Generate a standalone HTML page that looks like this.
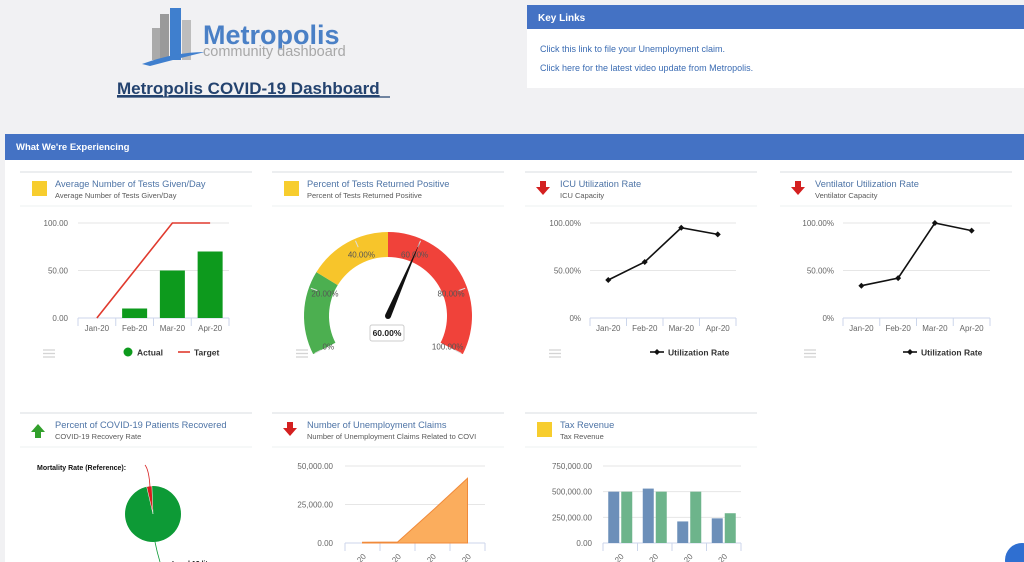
<!DOCTYPE html>
<html><head><meta charset="utf-8">
<style>
html,body{margin:0;padding:0;width:1024px;height:562px;overflow:hidden;background:#f1f1f3;font-family:"Liberation Sans",sans-serif;}
svg{position:absolute;left:0;top:0;}
text{font-family:"Liberation Sans",sans-serif;}
</style></head>
<body>
<svg id="page" width="1024" height="562" viewBox="0 0 1024 562">
  <!-- header -->
  <g>
    <rect x="160" y="14" width="9" height="46" fill="#9a9a9a"/>
    <rect x="170" y="8" width="11" height="52" fill="#3f7fce"/>
    <rect x="182" y="20" width="9" height="40" fill="#bdbdbd"/>
    <rect x="152" y="28" width="8" height="32" fill="#aaaaaa"/>
    <path d="M142 64 Q175 52 205 52 Q180 58 150 66 Z" fill="#3f7fce"/>
    <text x="203" y="44" font-size="27" font-weight="bold" fill="#4a80c6">Metropolis</text>
    <text x="203" y="56" font-size="14.5" fill="#a8a8a8">community dashboard</text>
  </g>
  <text x="117" y="94" font-size="17" font-weight="bold" fill="#24436f" text-decoration="underline">Metropolis COVID-19 Dashboard</text>
  <line x1="117" y1="97" x2="390" y2="97" stroke="#24436f" stroke-width="1.2"/>

  <!-- key links -->
  <g>
    <rect x="527" y="5" width="497" height="83" fill="#ffffff"/>
    <rect x="527" y="5" width="497" height="24" fill="#4472c4"/>
    <text x="538" y="21" font-size="10" font-weight="bold" fill="#ffffff">Key Links</text>
    <text x="540" y="52" font-size="9" fill="#3b6cb3">Click this link to file your Unemployment claim.</text>
    <text x="540" y="71" font-size="9" fill="#3b6cb3">Click here for the latest video update from Metropolis.</text>
  </g>

  <!-- section -->
  <rect x="5" y="134" width="1019" height="428" fill="#ffffff"/>
  <rect x="5" y="134" width="1019" height="26" fill="#4472c4"/>
  <text x="16" y="150" font-size="9.5" font-weight="bold" fill="#ffffff">What We're Experiencing</text>

  <g id="cards"></g>
  <g id="charts"></g>

  <circle cx="1022" cy="560" r="17" fill="#2f6fd1"/>
</svg>
<script>
// ---- data ----
const months = ["Jan-20","Feb-20","Mar-20","Apr-20"];
const testsActual = [0, 10, 50, 70];
const testsTarget = [0, 50, 100, 100];
const testsTicks = ["0.00","50.00","100.00"];
const positiveValue = 60;
const gaugeBands = [25, 50, 100];
const gaugeLabels = ["0%","20.00%","40.00%","60.00%","80.00%","100.00%"];
const icuRate = [40, 59, 95, 88];
const ventRate = [34, 42, 100, 92];
const pctTicks = ["0%","50.00%","100.00%"];
const mortalityPct = 3;
const claims = [500, 600, 21000, 42000];
const claimTicks = ["0.00","25,000.00","50,000.00"];
const taxActual = [500000, 530000, 210000, 240000];
const taxTarget = [500000, 500000, 500000, 290000];
const taxTicks = ["0.00","250,000.00","500,000.00","750,000.00"];

const NS = "http://www.w3.org/2000/svg";
function mk(parent, tag, attrs, txt){
  const e = document.createElementNS(NS, tag);
  for (const k in attrs) e.setAttribute(k, attrs[k]);
  if (txt !== undefined) e.textContent = txt;
  parent.appendChild(e); return e;
}
const cards = document.getElementById('cards');
const charts = document.getElementById('charts');

// ---- cards ----
const cardDefs = [
  [20,172,"Average Number of Tests Given/Day","Average Number of Tests Given/Day","sq"],
  [272,172,"Percent of Tests Returned Positive","Percent of Tests Returned Positive","sq"],
  [525,172,"ICU Utilization Rate","ICU Capacity","down"],
  [780,172,"Ventilator Utilization Rate","Ventilator Capacity","down"],
  [20,413,"Percent of COVID-19 Patients Recovered","COVID-19 Recovery Rate","up"],
  [272,413,"Number of Unemployment Claims","Number of Unemployment Claims Related to COVI","down"],
  [525,413,"Tax Revenue","Tax Revenue","sq"]
];
cardDefs.forEach((c,i)=>{
  const [x,y,t,s,ic] = c;
  const g = mk(cards,'g',{});
  
  
  mk(g,'line',{x1:x,y1:y,x2:x+232,y2:y,stroke:'#e6e9ec','stroke-width':1.5});
  mk(g,'line',{x1:x,y1:y+34,x2:x+232,y2:y+34,stroke:'#eef0f2','stroke-width':1});
  let icon;
  if (ic==='sq') icon = mk(g,'rect',{x:x+12,y:y+9,width:15,height:15,fill:'#f7cd2e'});
  else if (ic==='down') icon = mk(g,'path',{d:`M${x+15} ${y+9}h6v6h4l-7 8l-7-8h4z`,fill:'#d42020'});
  else icon = mk(g,'path',{d:`M${x+15} ${y+25}h6v-6h4l-7-8l-7 8h4z`,fill:'#32a02c'});
  
  
  const tt = mk(g,'text',{x:x+35,y:y+15,'font-size':9.3,fill:'#4e74a6'},t);
  
  
  const st = mk(g,'text',{x:x+35,y:y+26,'font-size':7.5,fill:'#5a5a5a'},s);
  
  
});
// hamburger menus
[[43,350],[296,350],[549,350],[804,350]].forEach(p=>{
  const g = mk(cards,'g',{stroke:'#d4d4d4','stroke-width':1.3});
  
  
  for(let k=0;k<3;k++) mk(g,'line',{x1:p[0],y1:p[1]+k*3.5,x2:p[0]+12,y2:p[1]+k*3.5});
});

function axisText(x,y,txt,anchor,name){
  const t = mk(charts,'text',{x:x,y:y,'font-size':8,fill:'#666','text-anchor':anchor||'end'},txt);
  
  
  return t;
}
function catAxis(x0,x1,y,labels,rot){
  mk(charts,'line',{x1:x0,y1:y,x2:x1,y2:y,stroke:'#ccd6eb'});
  const w=(x1-x0)/labels.length;
  for(let i=0;i<=labels.length;i++) mk(charts,'line',{x1:x0+i*w,y1:y,x2:x0+i*w,y2:y+8,stroke:'#ccd6eb'});
  labels.forEach((l,i)=>{
    const cx=x0+w*(i+0.5);
    if(rot){ const t=axisText(cx+4,y+14,l,'end','x-tick-label'); t.setAttribute('transform',`rotate(-45 ${cx+4} ${y+14})`);}
    else axisText(cx,y+13,l,'middle','x-tick-label');
  });
  return i=>x0+w*(i+0.5);
}
function grid(x0,x1,yTop,yBot,ticks,lx){
  ticks.forEach((t,i)=>{
    const y=yBot-(yBot-yTop)*i/(ticks.length-1);
    if(i>0) mk(charts,'line',{x1:x0,y1:y,x2:x1,y2:y,stroke:'#e6e6e6'});
    axisText(lx,y+3,t,'end','y-tick-label');
  });
}

// ---- chart 1: tests ----
(function(){
  const x0=78,x1=229,top=223,bot=318,max=100;
  grid(x0,x1,top,bot,testsTicks,68);
  const xs=catAxis(x0,x1,bot,months);
  const ys=v=>bot-(bot-top)*v/max;
  const bw=25;
  testsActual.forEach((v,i)=>{
    if(v<=0) return;
    const r=mk(charts,'rect',{x:xs(i)-bw/2,y:ys(v),width:bw,height:bot-ys(v),fill:'#0d9a1d'});
    
    
  });
  const pl=mk(charts,'polyline',{points:testsTarget.map((v,i)=>xs(i)+','+ys(v)).join(' '),fill:'none',stroke:'#e03a2e','stroke-width':1.6});
  
  
  const lg=mk(charts,'g',{});
  
  
  mk(lg,'circle',{cx:128,cy:352,r:4.5,fill:'#0d9a1d'});
  mk(lg,'text',{x:137,y:355.5,'font-size':8.5,'font-weight':'bold',fill:'#333'},'Actual');
  mk(lg,'line',{x1:178,y1:352,x2:190,y2:352,stroke:'#e03a2e','stroke-width':1.6});
  mk(lg,'text',{x:194,y:355.5,'font-size':8.5,'font-weight':'bold',fill:'#333'},'Target');
})();

// ---- gauge ----
(function(){
  const cx=388,cy=316,R=84,r=59,span=117;
  const ang=v=>(-span+2*span*v/100)*Math.PI/180;
  const pt=(a,rad)=>[cx+rad*Math.sin(a),cy-rad*Math.cos(a)];
  const colors=['#4caf50','#f7c52b','#f0423a'];
  let prev=0;
  gaugeBands.forEach((b,i)=>{
    const a0=ang(prev),a1=ang(b);
    const p1=pt(a0,R),p2=pt(a1,R),p3=pt(a1,r),p4=pt(a0,r);
    const large=(a1-a0)>Math.PI?1:0;
    const p=mk(charts,'path',{d:`M${p1} A${R} ${R} 0 ${large} 1 ${p2} L${p3} A${r} ${r} 0 ${large} 0 ${p4}Z`,fill:colors[i]});
    
    
    prev=b;
  });
  gaugeLabels.forEach((l,i)=>{
    const v=i*20;const a=ang(v);
    const [tx,ty]=pt(a,R-2),[tx2,ty2]=pt(a,R-9);
    mk(charts,'line',{x1:tx,y1:ty,x2:tx2,y2:ty2,stroke:'#ddd','stroke-width':1});
    const [lx,ly]=pt(a,r+8);
    const t=axisText(lx,ly+3,l,'middle','gauge-label');
    t.setAttribute('fill','#555');
  });
  const a=ang(positiveValue);
  const tip=pt(a,R-4),b1=pt(a+Math.PI/2,3),b2=pt(a-Math.PI/2,3);
  const n=mk(charts,'path',{d:`M${b1} L${tip} L${b2}Z`,fill:'#111'});
  
  
  mk(charts,'circle',{cx:cx,cy:cy,r:3,fill:'#111'});
  const bx=mk(charts,'rect',{x:370,y:325,width:34,height:16,fill:'#fff',stroke:'#ccc',rx:2});
  
  
  mk(charts,'text',{x:387,y:336,'font-size':8.5,'font-weight':'bold',fill:'#222','text-anchor':'middle'},positiveValue.toFixed(2)+'%');
})();

// ---- line charts ----
function lineChart(x0,x1,vals,name,lx,legx){
  const top=223,bot=318;
  grid(x0,x1,top,bot,pctTicks,lx);
  const xs=catAxis(x0,x1,bot,months);
  const ys=v=>bot-(bot-top)*v/100;
  const pl=mk(charts,'polyline',{points:vals.map((v,i)=>xs(i)+','+ys(v)).join(' '),fill:'none',stroke:'#111','stroke-width':1.6});
  
  
  vals.forEach((v,i)=>{
    const m=mk(charts,'path',{d:`M${xs(i)} ${ys(v)-3}l3 3l-3 3l-3-3z`,fill:'#111'});
    
    
  });
  const lg=mk(charts,'g',{});
  
  
  mk(lg,'line',{x1:legx,y1:352,x2:legx+14,y2:352,stroke:'#111','stroke-width':1.6});
  mk(lg,'path',{d:`M${legx+7} 349l3 3l-3 3l-3-3z`,fill:'#111'});
  mk(lg,'text',{x:legx+18,y:355.5,'font-size':8.5,'font-weight':'bold',fill:'#333'},'Utilization Rate');
}
lineChart(590,736,icuRate,'icu',581,650);
lineChart(843,990,ventRate,'ventilator',834,903);

// ---- pie ----
(function(){
  const cx=153,cy=514,R=28;
  const gc=mk(charts,'circle',{cx:cx,cy:cy,r:R,fill:'#0d9a36'});
  
  
  const a0=-mortalityPct*3.6*Math.PI/180-0.04,a1=-0.04+0.0;
  const p1=[cx+R*Math.sin(a0),cy-R*Math.cos(a0)],p2=[cx+R*Math.sin(a1),cy-R*Math.cos(a1)];
  const red=mk(charts,'path',{d:`M${cx} ${cy} L${p1} A${R} ${R} 0 0 1 ${p2}Z`,fill:'#d71e1e',stroke:'#fff','stroke-width':0.5});
  
  
  mk(charts,'path',{d:'M150 487 Q149 470 145 465',fill:'none',stroke:'#d71e1e','stroke-width':0.8});
  mk(charts,'path',{d:'M155 542 Q157 552 160 562',fill:'none',stroke:'#0d9a36','stroke-width':0.8});
  const t=mk(charts,'text',{x:37,y:470,'font-size':7,'font-weight':'bold',fill:'#111'},'Mortality Rate (Reference):');
  
  
  mk(charts,'text',{x:172,y:566,'font-size':7,'font-weight':'bold',fill:'#111'},'Level 12 lit');
})();

// ---- area chart ----
(function(){
  const x0=345,x1=485,top=466,bot=543,max=50000;
  grid(x0,x1,top,bot,claimTicks,333);
  const xs=catAxis(x0,x1,bot,months,true);
  const ys=v=>bot-(bot-top)*v/max;
  const pts=claims.map((v,i)=>xs(i)+','+ys(v));
  const a=mk(charts,'path',{d:`M${xs(0)} ${bot} L${pts.join(' L')} L${xs(claims.length-1)} ${bot}Z`,fill:'#fbad5d',stroke:'#f08a3a','stroke-width':1});
  
  
})();

// ---- tax bars ----
(function(){
  const x0=603,x1=741,top=466,bot=543,max=750000;
  grid(x0,x1,top,bot,taxTicks,592);
  const xs=catAxis(x0,x1,bot,months,true);
  const ys=v=>bot-(bot-top)*v/max;
  const bw=11;
  months.forEach((m,i)=>{
    const r1=mk(charts,'rect',{x:xs(i)-bw-1,y:ys(taxActual[i]),width:bw,height:bot-ys(taxActual[i]),fill:'#6c8fb9'});
    
    
    const r2=mk(charts,'rect',{x:xs(i)+1,y:ys(taxTarget[i]),width:bw,height:bot-ys(taxTarget[i]),fill:'#6db48b'});
    
    
  });
})();
</script>
</body></html>
